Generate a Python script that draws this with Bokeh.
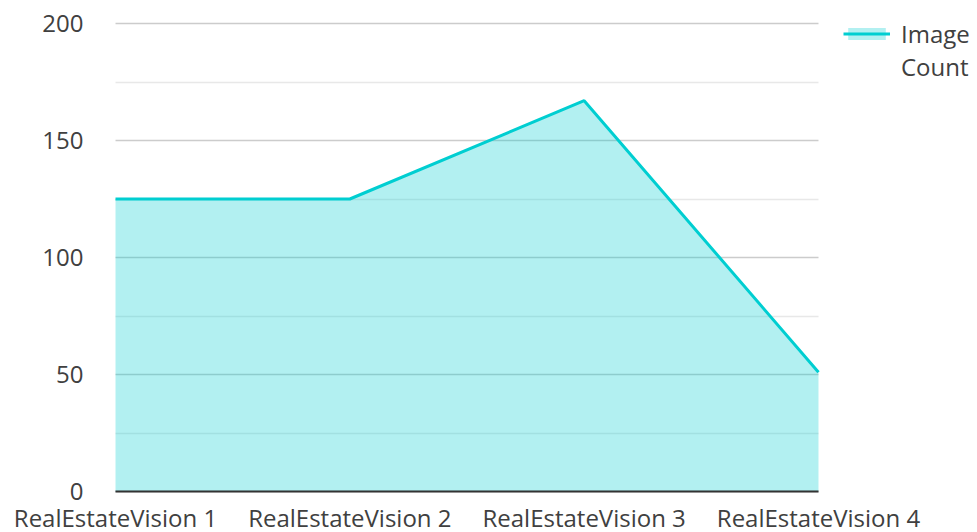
from bokeh.plotting import figure
from bokeh.models import Range1d, FixedTicker, Legend, LegendItem
from bokeh.embed import file_html
from bokeh.resources import INLINE

categories = ["RealEstateVision 1", "RealEstateVision 2", "RealEstateVision 3", "RealEstateVision 4"]
image_count = [125, 125, 167, 51]
y_ticks = [0, 50, 100, 150, 200]
y_minor_ticks = [25, 75, 125, 175]
series_name = ["Image", "Count"]

FONT = "Open Sans"
LINE = "#00CED1"
TEXT = "#404040"

# layout (pixels); the frame covers the whole canvas and both axes are pinned at 0
W, H = 977, 532
PLOT_LEFT, PLOT_RIGHT = 115, 818
PLOT_TOP, PLOT_BOTTOM = 23, 491

xs = list(range(len(categories)))
x_last = len(categories) - 1
x_px = (PLOT_RIGHT - PLOT_LEFT) / x_last
x_start = -PLOT_LEFT / x_px
x_end = x_last + (W - PLOT_RIGHT) / x_px
y_top = y_ticks[-1]
y_px = (PLOT_BOTTOM - PLOT_TOP) / y_top
y_end = y_top + PLOT_TOP / y_px
y_start = -(H - PLOT_BOTTOM) / y_px

p = figure(width=W, height=H, output_backend="svg", toolbar_location=None,
           x_range=Range1d(x_start, x_end), y_range=Range1d(y_start, y_end),
           min_border=0)
p.outline_line_color = None
p.background_fill_color = "white"
p.border_fill_color = "white"

area = p.varea(x=xs, y1=[0] * len(xs), y2=image_count, fill_color=LINE, fill_alpha=0.3)
line = p.line(x=xs, y=image_count, line_color=LINE, line_width=3)

p.xaxis.fixed_location = 0
p.xaxis.ticker = FixedTicker(ticks=xs)
p.xaxis.bounds = (0, x_last)
p.xaxis.major_label_overrides = {i: c for i, c in zip(xs, categories)}
p.xaxis.axis_line_color = "#333333"
p.xaxis.axis_line_width = 2
p.xaxis.major_tick_line_color = None
p.xaxis.minor_tick_line_color = None
p.xaxis.major_label_standoff = 3
p.xaxis.major_label_text_font = FONT
p.xaxis.major_label_text_font_size = "24px"
p.xaxis.major_label_text_color = TEXT

p.yaxis.fixed_location = 0
p.yaxis.ticker = FixedTicker(ticks=y_ticks, minor_ticks=y_minor_ticks)
p.yaxis.bounds = (0, y_top)
p.yaxis.axis_line_color = None
p.yaxis.major_tick_line_color = None
p.yaxis.minor_tick_line_color = None
p.yaxis.major_label_standoff = 26
p.yaxis.major_label_text_font = FONT
p.yaxis.major_label_text_font_size = "24px"
p.yaxis.major_label_text_color = TEXT

p.xgrid.grid_line_color = None
p.ygrid.bounds = (0, y_top)
p.ygrid.cross_bounds = (0, x_last)
p.ygrid.grid_line_color = "#cccccc"
p.ygrid.grid_line_width = 1.5
p.ygrid.minor_grid_line_color = "#e8e8e8"
p.ygrid.minor_grid_line_width = 1.5

legend = Legend(items=[LegendItem(label=series_name[0], renderers=[area, line]),
                       LegendItem(label=series_name[1], renderers=[])],
                location=(843, 449), margin=0, padding=0, spacing=0,
                glyph_width=47, glyph_height=15, label_standoff=11,
                label_text_font=FONT, label_text_font_size="24px", label_text_color=TEXT,
                border_line_color=None, background_fill_alpha=0)
p.add_layout(legend)

open("out.html", "w").write(file_html(p, INLINE))
